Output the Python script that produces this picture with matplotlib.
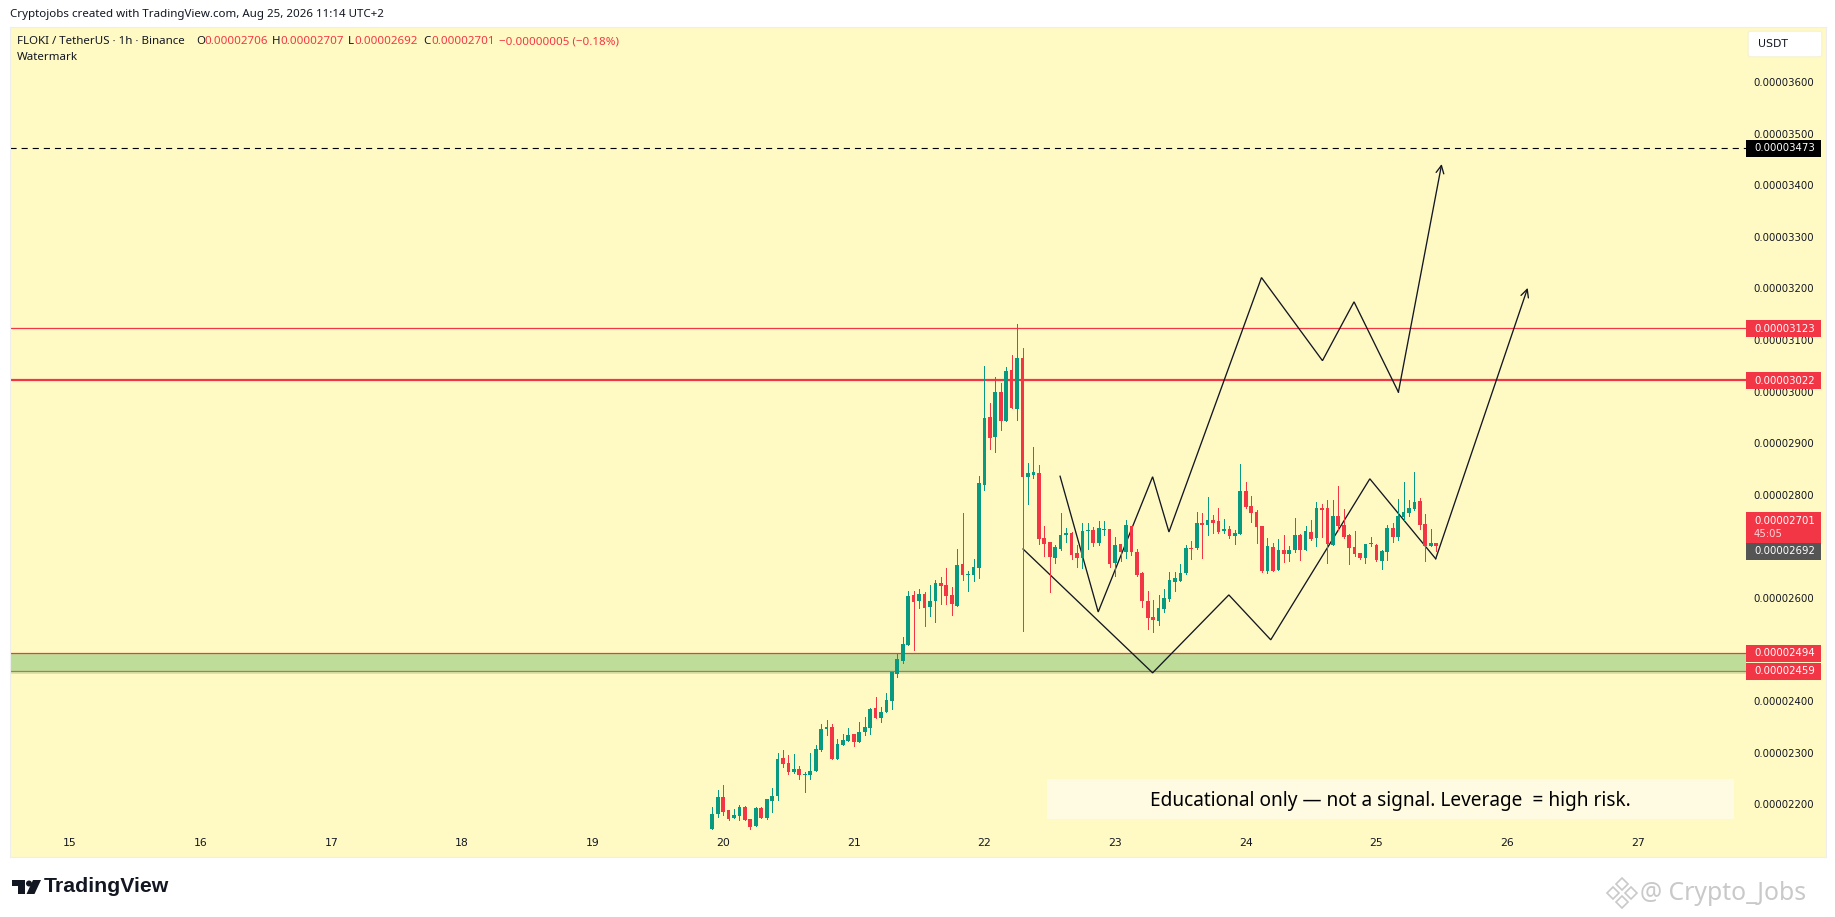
import matplotlib
matplotlib.use('Agg')
import matplotlib.pyplot as plt
from matplotlib.patches import Rectangle, Polygon, Circle, FancyBboxPatch, RegularPolygon

# prices are in units of 1e-8 USDT, hours count from Aug 15 00:00
first_hour = 118
opens = [2153, 2181, 2214, 2189, 2174, 2178, 2195, 2172, 2158, 2193, 2174, 2206, 2216, 2290, 2280, 2263, 2269, 2257,
         2257, 2265, 2305, 2346, 2350, 2288, 2315, 2323, 2336, 2321, 2340, 2348, 2387, 2367, 2379, 2400, 2453, 2478,
         2509, 2606, 2594, 2608, 2582, 2594, 2629, 2625, 2606, 2584, 2666, 2645, 2645, 2658, 2819, 2951, 2912, 2999,
         2943, 3042, 2966, 3065, 2834, 2838, 2842, 2716, 2708, 2677, 2695, 2722, 2726, 2687, 2678, 2730, 2732, 2707,
         2732, 2734, 2668, 2704, 2689, 2739, 2689, 2648, 2594, 2563, 2555, 2579, 2598, 2631, 2633, 2648, 2697, 2697,
         2745, 2741, 2751, 2749, 2730, 2734, 2720, 2724, 2807, 2778, 2767, 2739, 2652, 2699, 2654, 2693, 2685, 2693,
         2722, 2693, 2728, 2716, 2774, 2774, 2703, 2759, 2741, 2722, 2699, 2687, 2677, 2704, 2703, 2672, 2689, 2736,
         2718, 2757, 2765, 2772, 2788, 2743, 2701, 2706]
highs = [2195, 2228, 2238, 2189, 2191, 2199, 2197, 2172, 2195, 2195, 2210, 2232, 2300, 2305, 2296, 2298, 2274, 2263,
         2300, 2315, 2356, 2363, 2356, 2327, 2336, 2348, 2336, 2360, 2369, 2387, 2408, 2389, 2416, 2456, 2491, 2524,
         2614, 2614, 2617, 2612, 2625, 2635, 2641, 2658, 2621, 2695, 2765, 2652, 2676, 2836, 3050, 2978, 3028, 3017,
         3048, 3071, 3131, 3084, 2862, 2893, 2858, 2739, 2708, 2703, 2765, 2736, 2728, 2703, 2745, 2745, 2738, 2749,
         2749, 2734, 2718, 2704, 2751, 2739, 2695, 2650, 2614, 2596, 2606, 2617, 2650, 2650, 2666, 2703, 2710, 2767,
         2765, 2796, 2761, 2774, 2753, 2739, 2732, 2860, 2825, 2798, 2771, 2739, 2716, 2707, 2714, 2722, 2701, 2755,
         2724, 2739, 2751, 2786, 2782, 2790, 2790, 2817, 2772, 2724, 2730, 2687, 2704, 2718, 2705, 2693, 2741, 2745,
         2792, 2825, 2790, 2844, 2794, 2763, 2733, 2707]
lows = [2153, 2176, 2179, 2170, 2174, 2170, 2170, 2153, 2158, 2174, 2172, 2185, 2208, 2272, 2259, 2261, 2249, 2224,
        2249, 2265, 2303, 2334, 2288, 2288, 2315, 2323, 2313, 2321, 2334, 2336, 2367, 2360, 2379, 2385, 2447, 2474,
        2509, 2499, 2581, 2546, 2565, 2553, 2588, 2588, 2567, 2584, 2635, 2613, 2633, 2639, 2809, 2889, 2883, 2926,
        2943, 2968, 2945, 2536, 2782, 2832, 2705, 2681, 2612, 2668, 2693, 2708, 2675, 2660, 2658, 2695, 2701, 2703,
        2722, 2660, 2643, 2672, 2677, 2683, 2643, 2583, 2540, 2534, 2548, 2573, 2594, 2614, 2633, 2646, 2675, 2695,
        2677, 2722, 2726, 2726, 2726, 2716, 2705, 2724, 2774, 2747, 2706, 2650, 2648, 2652, 2654, 2670, 2672, 2689,
        2674, 2693, 2712, 2701, 2718, 2668, 2703, 2732, 2716, 2666, 2681, 2675, 2668, 2701, 2672, 2656, 2674, 2708,
        2712, 2751, 2759, 2770, 2733, 2672, 2701, 2692]
closes = [2181, 2214, 2186, 2172, 2179, 2195, 2170, 2156, 2193, 2174, 2210, 2216, 2288, 2278, 2263, 2269, 2257, 2259,
          2265, 2307, 2346, 2350, 2288, 2317, 2325, 2334, 2321, 2340, 2350, 2385, 2367, 2379, 2402, 2456, 2482, 2511,
          2604, 2592, 2608, 2581, 2594, 2629, 2623, 2604, 2588, 2664, 2645, 2647, 2660, 2823, 2949, 2910, 2999, 2943,
          3040, 2968, 3065, 2834, 2842, 2844, 2714, 2705, 2679, 2699, 2722, 2726, 2683, 2677, 2730, 2732, 2707, 2736,
          2734, 2666, 2703, 2689, 2741, 2689, 2645, 2594, 2561, 2557, 2581, 2600, 2635, 2639, 2648, 2697, 2695, 2745,
          2741, 2751, 2745, 2728, 2734, 2720, 2726, 2807, 2776, 2765, 2738, 2652, 2701, 2652, 2693, 2685, 2693, 2722,
          2693, 2730, 2714, 2774, 2770, 2705, 2759, 2739, 2718, 2697, 2685, 2677, 2704, 2706, 2674, 2691, 2736, 2718,
          2759, 2767, 2774, 2786, 2741, 2701, 2706, 2701]

price_ticks = [2200, 2300, 2400, 2600, 2800, 2900, 3000, 3100, 3200, 3300, 3400, 3500, 3600]
day_labels = ['15', '16', '17', '18', '19', '20', '21', '22', '23', '24', '25', '26', '27']
day_hours = [0, 24, 48, 72, 96, 120, 144, 168, 192, 216, 240, 264, 288]

path_a_hours = [181.9, 188.9, 198.9, 201.9, 218.9, 230.1, 235.9, 244.05, 252]
path_a_prices = [2836, 2573, 2835, 2728, 3221, 3060, 3174, 2999, 3441]
path_b_hours = [175.1, 198.9, 212.9, 220.6, 238.8, 250.9, 267.8]
path_b_prices = [2695, 2455, 2606, 2519, 2831, 2676, 3201]

GREEN = '#089981'
RED = '#f23645'
INK = '#131722'
W, H = 1835, 917
AX_L, AX_R, AX_T, AX_B = 10, 1826, 27, 857
TAG_L = 1746
TAG_R = 1821


def fx(x):
    return (x - AX_L) / (AX_R - AX_L)


def fy(y):
    return (AX_B - y) / (AX_B - AX_T)


def fig_text(x, y, s, **kw):
    kw.setdefault('va', 'center')
    kw.setdefault('color', INK)
    fig.text(x / W, 1 - y / H, s, **kw)


def price_tag(y_top, y_bottom, color):
    ax.add_patch(Rectangle((fx(TAG_L), fy(y_bottom)), fx(TAG_R) - fx(TAG_L), fy(y_top) - fy(y_bottom),
                           transform=ax.transAxes, fc=color, ec='none', zorder=6))


def tag_text(y, s, color='white'):
    ax.text(fx(1754), fy(y), s, transform=ax.transAxes, color=color, fontsize=7.3, va='center', ha='left', zorder=7)


fig = plt.figure(figsize=(W / 100, H / 100), dpi=100, facecolor='white')
ax = fig.add_axes([AX_L / W, 1 - AX_B / H, (AX_R - AX_L) / W, (AX_B - AX_T) / H])
ax.set_facecolor('#fff9c4')
ax.set_xlim(-11.0, 322.6)
ax.set_ylim(2098.1, 3706.6)
for s in ax.spines.values():
    s.set_color('#eeeeee')

# levels
ax.axhspan(2457, 2491, 0, fx(TAG_L), color='#bddd98', lw=0, zorder=1)
ax.axhspan(2453, 2457, 0, fx(TAG_L), color='#d6e8a8', lw=0, zorder=1)
ytrans = ax.get_yaxis_transform()
ax.hlines(2494, 0, fx(TAG_L), transform=ytrans, color=RED, lw=0.9, zorder=1.2)
ax.hlines(2459, 0, fx(TAG_L), transform=ytrans, color='#b8745a', lw=0.9, zorder=1.2)
ax.hlines(3123, 0, fx(TAG_L), transform=ytrans, color=RED, lw=0.9, zorder=1.2)
ax.hlines(3022, 0, fx(TAG_L), transform=ytrans, color=RED, lw=1.6, zorder=1.2)
ax.hlines(3473, 0, fx(TAG_L), transform=ytrans, color='black', lw=0.8, linestyles=(0, (5.5, 4.5)), zorder=1.2)

# projected paths
for hours, prices in [(path_a_hours, path_a_prices), (path_b_hours, path_b_prices)]:
    ax.plot(hours[:-1], prices[:-1], color=INK, lw=0.95, zorder=2, solid_joinstyle='miter')
    ax.annotate('', xy=(hours[-1], prices[-1]), xytext=(hours[-2], prices[-2]), zorder=2,
                arrowprops=dict(arrowstyle='->', color=INK, lw=0.95, mutation_scale=14, shrinkA=0, shrinkB=0))

# candles
hours = [first_hour + i for i in range(len(opens))]
colors = [GREEN if c >= o else RED for o, c in zip(opens, closes)]
ax.vlines(hours, lows, highs, colors=colors, lw=0.72, zorder=3, antialiased=False)
ax.bar(hours, [abs(c - o) for o, c in zip(opens, closes)], bottom=[min(o, c) for o, c in zip(opens, closes)],
       width=0.68, color=colors, lw=0, zorder=3, antialiased=False)

# axes labels sit inside the plot like on the platform
ax.yaxis.tick_right()
ax.set_yticks(price_ticks)
ax.set_yticklabels(['0.0000%d' % p for p in price_ticks])
ax.set_xticks(day_hours)
ax.set_xticklabels(day_labels)
ax.tick_params(axis='y', length=0, pad=-52, labelsize=7.3, labelcolor=INK)
ax.tick_params(axis='x', length=0, pad=-14, labelsize=7.8, labelcolor=INK)

# right hand tags
price_tag(139.5, 156.5, 'black')
tag_text(148, '0.00003473')
price_tag(320, 337, RED)
tag_text(328.5, '0.00003123')
price_tag(372, 389, RED)
tag_text(380.5, '0.00003022')
price_tag(512, 543, RED)
tag_text(521, '0.00002701')
tag_text(534, '45:05', '#ffd5d8')
price_tag(543, 560, '#555555')
tag_text(551.5, '0.00002692')
price_tag(645, 662, RED)
tag_text(653.5, '0.00002494')
price_tag(663, 680, RED)
tag_text(671.5, '0.00002459')

ax.add_patch(FancyBboxPatch((fx(1750), fy(56)), fx(1820) - fx(1750), fy(32) - fy(56), transform=ax.transAxes,
                            boxstyle='round,pad=0.001,rounding_size=0.002', fc='white', ec='#f3efd0', lw=0.6, zorder=6))
ax.text(fx(1758), fy(44), 'USDT', transform=ax.transAxes, color=INK, fontsize=7.8, va='center', zorder=7)

# disclaimer strip
ax.add_patch(Rectangle((fx(1047), fy(819)), fx(1734) - fx(1047), fy(779) - fy(819), transform=ax.transAxes,
                       fc='#fffbe3', ec='none', zorder=4))
ax.text(fx(1390), fy(801), 'Educational only — not a signal. Leverage  = high risk.', transform=ax.transAxes,
        color='black', fontsize=13.7, family='Noto Sans', ha='center', va='center', zorder=5)

# header
fig_text(10, 15, 'Cryptojobs created with TradingView.com, Aug 25, 2026 11:14 UTC+2', fontsize=8.3, family='Noto Sans')
fig_text(17, 42, 'FLOKI / TetherUS · 1h · Binance', fontsize=8.3, family='Noto Sans')
for x, s in [(196, 'O'), (272, 'H'), (348, 'L'), (423, 'C')]:
    fig_text(x, 42, s, fontsize=8.3, family='Noto Sans')
for x, s in [(204, '0.00002706'), (280, '0.00002707'), (354, '0.00002692'), (431, '0.00002701'),
             (499, '−0.00000005 (−0.18%)')]:
    fig_text(x, 42, s, fontsize=8.3, family='Noto Sans', color=RED)
fig_text(17, 58, 'Watermark', fontsize=8.3, family='Noto Sans')

# footer, logo and watermark
overlay = fig.add_axes([0, 0, 1, 1], facecolor='none')
overlay.set_xlim(0, W)
overlay.set_ylim(H, 0)
overlay.axis('off')
overlay.add_patch(Polygon([(12, 880), (25, 880), (25, 894), (18, 894), (18, 886), (12, 886)], fc='#131722', ec='none'))
overlay.add_patch(Circle((29, 883.5), 3, fc='#131722', ec='none'))
overlay.add_patch(Polygon([(33, 880), (41, 880), (34.5, 894), (26.5, 894)], fc='#131722', ec='none'))
fig_text(44, 887, 'TradingView', fontsize=15.3, weight='bold', family='Liberation Sans', color='#131722')
for cx, cy in [(1622, 884), (1613, 893), (1631, 893), (1622, 902)]:
    overlay.add_patch(RegularPolygon((cx, cy), 4, radius=6, fc='none', ec='#c9c9c9', lw=1.2))
fig_text(1640, 894, '@ Crypto_Jobs', fontsize=17.8, family='Noto Sans', color='#c9c9c9')

fig.savefig('out.png', dpi=100)
